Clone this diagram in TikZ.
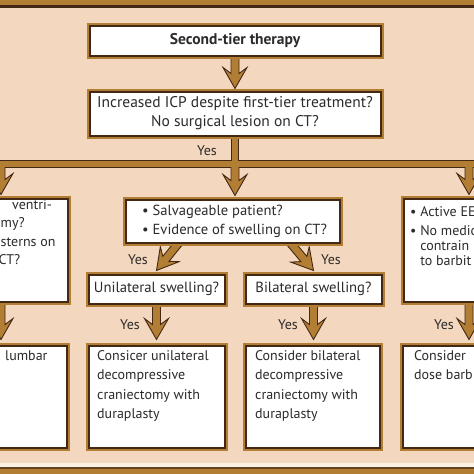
\documentclass[tikz,border=0pt]{standalone}
\usepackage{fontspec}
\setmainfont{PT Sans}
\usepackage{xcolor}
\usetikzlibrary{positioning,calc}
\definecolor{peach}{RGB}{243,215,190}
\definecolor{gold}{RGB}{178,126,52}
\definecolor{umber}{RGB}{68,40,22}
\definecolor{ink}{RGB}{45,42,42}
\definecolor{cream}{RGB}{252,242,228}
\pgfdeclarelayer{back}
\pgfdeclarelayer{pipes}
\pgfsetlayers{back,pipes,main}
\newcommand{\bigarrow}[2]{%
  \coordinate (ba-s) at (#1);
  \coordinate (ba-t) at (#2);
  \coordinate (ba-j) at ($(ba-t)!15pt!(ba-s)$);
  \coordinate (ba-w) at ($(ba-t)!21pt!(ba-s)$);
  \filldraw[fat arrow] ($(ba-s)!4pt!90:(ba-t)$) -- ($(ba-j)!4pt!-90:(ba-s)$)
    -- ($(ba-w)!12pt!-90:(ba-s)$) -- (ba-t) -- ($(ba-w)!12pt!90:(ba-s)$)
    -- ($(ba-j)!4pt!90:(ba-s)$) -- ($(ba-s)!4pt!-90:(ba-t)$) -- cycle;
}

\begin{document}
\begin{tikzpicture}[x=1pt, y=-1pt,
  every node/.style = {text=ink, inner sep=0pt, font=\fontsize{14}{19}\selectfont},
  box/.style = {draw=umber, line width=2pt, fill=white,
    preaction={draw=gold, line width=6pt}},
  fat arrow/.style = {fill=gold, draw=umber, line width=0.9pt, line join=miter},
  yes/.style = {font=\fontsize{14}{16}\selectfont},
  txt/.style = {anchor=north west, align=left},
  frag/.style = {anchor=base west}
]
\useasboundingbox (0,0) rectangle (474,474);
\clip (0,0) rectangle (474,474);

\begin{pgfonlayer}{back}
  \fill[peach] (0,0) rectangle (474,474);
  \fill[gold] (0,0) rectangle (474,4.5);
  \fill[umber] (0,4.5) rectangle (474,8);
  \fill[cream] (0,462.5) rectangle (474,466.5);
  \fill[umber!70!gold] (0,466.5) rectangle (474,468.5);
  \fill[gold] (0,468.5) rectangle (474,474);
\end{pgfonlayer}

\node[box, minimum width=291pt, minimum height=30pt,
  font=\bfseries\fontsize{15.5}{19}\selectfont] (top) at (235,40.5) {Second-tier therapy};
\node[box, minimum width=291pt, minimum height=44pt, align=center,
  font=\fontsize{15.5}{19}\selectfont] (icp) at (235,113.5)
  {Increased ICP despite first-tier treatment?\\No surgical lesion on CT?};
\node[box, minimum width=145pt, minimum height=103pt] (lb2) at (-5,250) {};
\node[box, minimum width=214pt, minimum height=43pt, align=left,
  font=\fontsize{14.6}{19}\selectfont] (sal) at (232.5,221)
  {\hspace*{4pt}• Salvageable patient?\\\hspace*{4pt}• Evidence of swelling on CT?};
\node[box, minimum width=145pt, minimum height=103pt] (rb2) at (476,250) {};
\node[box, minimum width=136pt, minimum height=29pt,
  font=\fontsize{14.7}{19}\selectfont] (uni) at (156.5,289) {Unilateral swelling?};
\node[box, minimum width=136pt, minimum height=29pt,
  font=\fontsize{14.7}{19}\selectfont] (bil) at (313.5,289) {Bilateral swelling?};
\node[box, minimum width=144pt, minimum height=102pt] (lb4) at (-5.5,396.5) {};
\node[box, minimum width=136pt, minimum height=102pt] (cu) at (156.5,396.5) {};
\node[box, minimum width=134pt, minimum height=102pt] (cb) at (312.5,396.5) {};
\node[box, minimum width=145pt, minimum height=102pt] (rb4) at (475,396.5) {};

\node[frag] (lv1) at (12,209) {ventri-};
\node[frag] (lv2) at (0.5,227) {my?};
\node[frag] (lv3) at (0.5,246) {sterns on};
\node[frag] (lv4) at (-1.5,264) {CT?};
\node[txt, font=\fontsize{14}{15}\selectfont] (rb2t) at (410,206.5)
  {• Active EE\\[4pt]• No medic\\\phantom{• }contrain\\\phantom{• }to barbit};
\node[txt] (lb4t) at (5,350.5) {lumbar};
\node[txt, font=\fontsize{14}{19.3}\selectfont] (cut) at (97,350.5)
  {Consicer unilateral\\decompressive\\craniectomy with\\duraplasty};
\node[txt, font=\fontsize{14}{19.3}\selectfont] (cbt) at (255,350.5)
  {Consider bilateral\\decompressive\\craniectomy with\\duraplasty};
\node[txt, font=\fontsize{14}{19.3}\selectfont] (rb4t) at (414,350.5) {Consider\\dose barb};

\node[yes] (y0) at (207,151) {Yes};
\node[yes] (y1) at (138,260) {Yes};
\node[yes] (y2) at (331,260) {Yes};
\node[yes] (y3) at (130,325) {Yes};
\node[yes] (y4) at (288,325) {Yes};
\node[yes] (y5) at (444,325) {Yes};

\coordinate (jn) at (235,164);
\coordinate (bl) at (-10,164);
\coordinate (br) at (484,164);
\coordinate (b1) at (1,164);
\coordinate (b3) at (469,164);

\begin{pgfonlayer}{pipes}
  \clip (0,0) rectangle (474,474);
  \draw[umber, line width=8pt] (icp.south) -- (jn) (bl) -- (br);
  \bigarrow{$(top.south)+(0,-3)$}{$(icp.north)+(0,-2)$}
  \bigarrow{b1}{$(b1 |- lb2.north)+(0,-3)$}
  \bigarrow{jn}{$(jn |- sal.north)+(0,-3)$}
  \bigarrow{b3}{$(b3 |- rb2.north)+(0,-3)$}
  \bigarrow{$(sal.south)+(-51,-4)$}{$(uni.north)+(0,-3)$}
  \bigarrow{$(sal.south)+(55,-4)$}{$(bil.north)+(0,-3)$}
  \bigarrow{$(b1 |- lb2.south)+(0,-3)$}{$(b1 |- lb4.north)+(0,-5)$}
  \bigarrow{$(uni.south)+(0,-3)$}{$(uni.south |- cu.north)+(0,-5)$}
  \bigarrow{$(bil.south)+(0,-3)$}{$(bil.south |- cb.north)+(0,-5)$}
  \bigarrow{$(b3 |- rb2.south)+(0,-3)$}{$(b3 |- rb4.north)+(0,-5)$}
  \draw[gold, line width=6.2pt] (icp.south) -- (jn) (bl) -- (br);
\end{pgfonlayer}
\end{tikzpicture}
\end{document}
